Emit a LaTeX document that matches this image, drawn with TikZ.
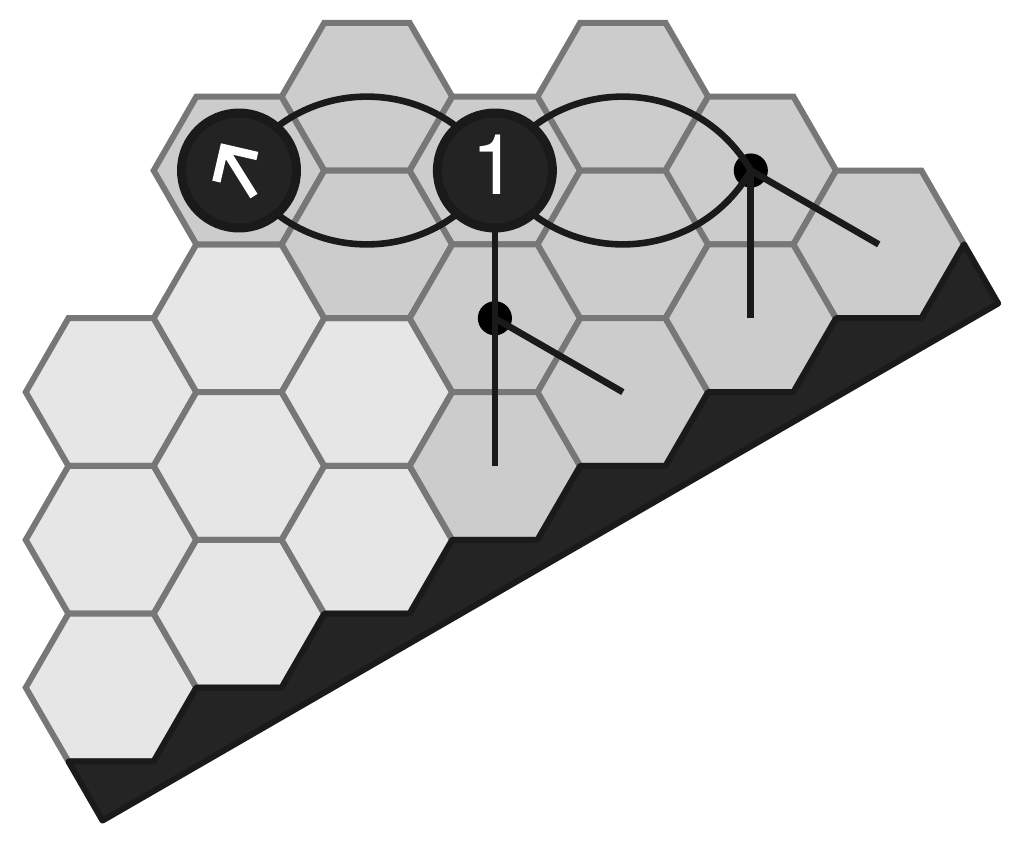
\documentclass[tikz,border=0pt]{standalone}
\usepackage{fontspec}
\setmainfont{TeX Gyre Heros}
\usetikzlibrary{positioning}
\pgfdeclarelayer{bg}
\pgfdeclarelayer{fg}
\pgfsetlayers{bg,main,fg}
\definecolor{hexlight}{HTML}{E6E6E6}
\definecolor{hexgray}{HTML}{CCCCCC}
\definecolor{hexline}{HTML}{777777}
\definecolor{boardfill}{HTML}{242424}
\definecolor{inkline}{HTML}{1A1A1A}
\definecolor{stonefill}{HTML}{232323}

\begin{document}
\begin{tikzpicture}[
hexcell/.style={draw=hexline, line width=2pt},
stone/.style={circle, draw=inkline, fill=stonefill, line width=3pt, minimum size=1.348cm, inner sep=0pt},
dot/.style={circle, fill=black, minimum size=0.4cm, inner sep=0pt},
link/.style={draw=inkline, line width=2.2pt},
numtext/.style={text=white, font=\fontsize{28}{30}\selectfont, yshift=0.07cm},
pointer/.style={draw=white, line width=2.8pt},
]
\useasboundingbox (-2.802,-7.907) rectangle (9.203,1.999);

\begin{pgfonlayer}{fg}
\node[stone] (arrowc) at (0,0) {};
\node[stone, label={[numtext]center:1}] (onec) at (3,0) {};
\end{pgfonlayer}
\node[dot] (midvia) at (3,-1.732) {};
\node[dot] (rightvia) at (6,0) {};
\coordinate (midend) at (3,-3.464);
\coordinate (midside) at (4.5,-2.598);
\coordinate (rightdown) at (6,-1.732);
\coordinate (rightside) at (7.5,-0.866);

%Board
\begin{pgfonlayer}{bg}
\foreach \c/\m in {-1/3,-1/5,-1/7,0/2,0/4,0/6,1/3,1/5}
  \draw[hexcell, fill=hexlight] (1.5*\c,-0.866*\m) +(0:1) -- +(60:1) -- +(120:1) -- +(180:1) -- +(240:1) -- +(300:1) -- cycle;
\foreach \c/\m in {0/0,1/-1,1/1,2/0,2/2,2/4,3/-1,3/1,3/3,4/0,4/2,5/1}
  \draw[hexcell, fill=hexgray] (1.5*\c,-0.866*\m) +(0:1) -- +(60:1) -- +(120:1) -- +(180:1) -- +(240:1) -- +(300:1) -- cycle;
\draw[fill=boardfill, draw=inkline, line width=2pt, line join=round]
  (-2,-6.928) -- (-1,-6.928) -- (-0.5,-6.062) -- (0.5,-6.062) -- (1,-5.196) -- (2,-5.196)
  -- (2.5,-4.330) -- (3.5,-4.330) -- (4,-3.464) -- (5,-3.464) -- (5.5,-2.598) -- (6.5,-2.598)
  -- (7,-1.732) -- (8,-1.732) -- (8.5,-0.866) -- (8.9,-1.559) -- (-1.6,-7.621) -- cycle;
\end{pgfonlayer}

%Curves between stones
\draw[link] (arrowc.center) to[bend left=60, looseness=1.14] (onec.center);
\draw[link] (arrowc.center) to[bend right=60, looseness=1.14] (onec.center);
\draw[link] (onec.center) to[bend left=60, looseness=1.14] (rightvia.center);
\draw[link] (onec.center) to[bend right=60, looseness=1.14] (rightvia.center);

%Straight legs
\draw[link] (onec.center) -- (midend);
\draw[link] (midvia.center) -- (midside);
\draw[link] (rightvia.center) -- (rightdown);
\draw[link] (rightvia.center) -- (rightside);

%Arrow mark
\begin{pgfonlayer}{fg}
\begin{scope}[shift={(arrowc.center)}, yshift=-0.02cm, rotate=122]
\draw[pointer] (-0.33,0) -- (0.33,0);
\draw[pointer, line join=miter] (0.047,0.283) -- (0.33,0) -- (0.047,-0.283);
\end{scope}
\end{pgfonlayer}
\end{tikzpicture}
\end{document}
